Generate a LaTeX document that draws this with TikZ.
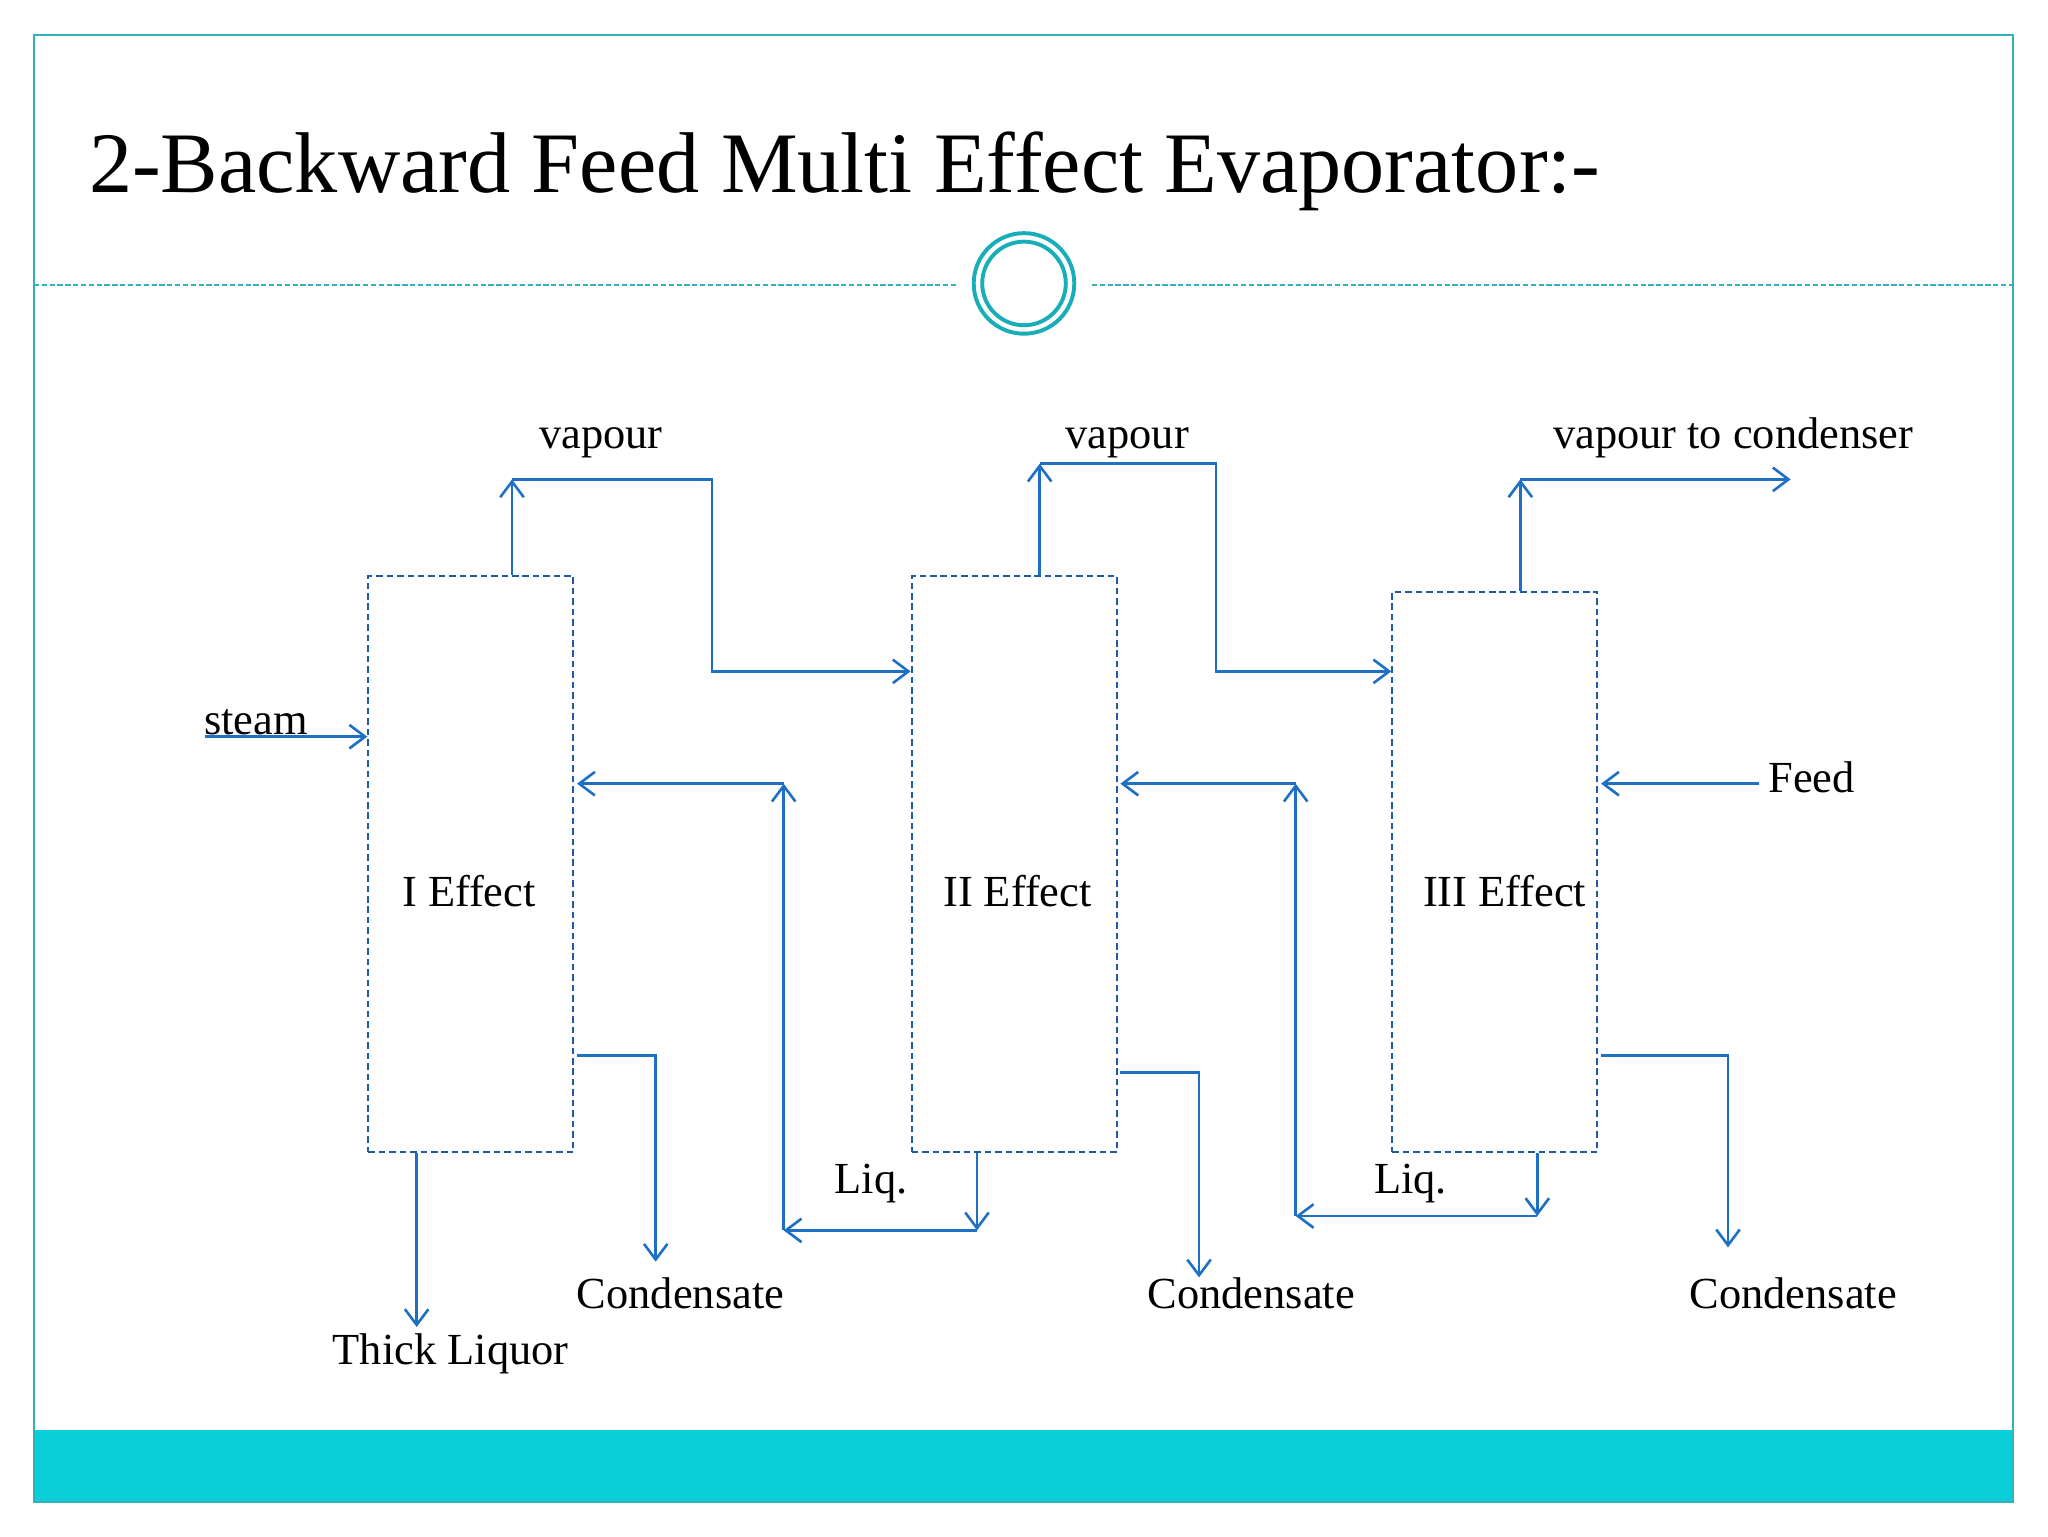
\documentclass[tikz,border=0pt]{standalone}
\usepackage{fontspec}
\setmainfont{Liberation Serif}
\usetikzlibrary{arrows.meta}
\definecolor{flowblue}{RGB}{30,112,196}
\definecolor{boxblue}{RGB}{32,90,166}
\definecolor{frameteal}{RGB}{52,178,188}
\definecolor{ringteal}{RGB}{24,174,184}
\definecolor{bandcyan}{RGB}{11,207,216}
\begin{document}
\begin{tikzpicture}[x=1pt,y=-1pt,
  flow/.style={draw=flowblue,line width=2pt,-{Straight Barb[length=12pt,width=18pt]}},
  effbox/.style={draw=boxblue,line width=1.6pt,dash pattern=on 5pt off 3pt,minimum width=157pt,inner sep=0pt},
  lbl/.style={font=\fontsize{34}{40}\selectfont,anchor=base,inner sep=0pt},
]
\useasboundingbox (0,0) rectangle (1568,1176);
\fill[white] (0,0) rectangle (1568,1176);
% frame
\fill[bandcyan] (26,1095) rectangle (1541,1150);
\draw[frameteal,line width=1.5pt] (26,27) rectangle (1541,1150);
\draw[frameteal,line width=1.3pt,dash pattern=on 4pt off 2pt] (26,218) -- (732,218);
\draw[frameteal,line width=1.3pt,dash pattern=on 4pt off 2pt] (836,218) -- (1541,218);
\draw[ringteal,line width=3pt] (784,217) circle[radius=38.5];
\draw[ringteal,line width=3pt] (784,217) circle[radius=32];
% title
\node[font=\fontsize{66}{70}\selectfont,anchor=base west,inner sep=0pt] (title) at (68,147) {2-Backward Feed Multi Effect Evaporator:-};
% effects
\node[effbox,minimum height=441pt] (e1) at (360.5,661.5) {};
\node[effbox,minimum height=441pt] (e2) at (776.5,661.5) {};
\node[effbox,minimum height=429pt] (e3) at (1144.5,667.5) {};
\node[lbl] (le1) at (359,694) {I Effect};
\node[lbl] (le2) at (779,694) {II Effect};
\node[lbl] (le3) at (1152,694) {III Effect};
% coordinates
\coordinate (s0) at (157,564);
\coordinate (v1) at (392,367);
\coordinate (v1r) at (545,367);
\coordinate (v1d) at (545,514);
\coordinate (v2) at (796,355);
\coordinate (v2r) at (931,355);
\coordinate (v2d) at (931,514);
\coordinate (v3) at (1164,367);
\coordinate (v3e) at (1371,367);
\coordinate (f0) at (1347,600);
\coordinate (l3a) at (1177,931);
\coordinate (l3b) at (992,931);
\coordinate (l3c) at (992,600);
\coordinate (l2a) at (748,942);
\coordinate (l2b) at (600,942);
\coordinate (l2c) at (600,600);
\coordinate (c1a) at (502,808);
\coordinate (c1b) at (502,966);
\coordinate (c2a) at (918,821);
\coordinate (c2b) at (918,978);
\coordinate (c3a) at (1323,808);
\coordinate (c3b) at (1323,955);
\coordinate (t1) at (319,1016);
% steam
\draw[flow] (s0) -- (s0 -| e1.west);
% vapours
\draw[flow] (e1.north -| v1) -- (v1);
\draw[flow] (v1) -- (v1r) -- (v1d) -- (v1d -| e2.west);
\draw[flow] (e2.north -| v2) -- (v2);
\draw[flow] (v2) -- (v2r) -- (v2d) -- (v2d -| e3.west);
\draw[flow] (e3.north -| v3) -- (v3);
\draw[flow] (v3) -- (v3e);
% feed
\draw[flow] (f0) -- ([xshift=2pt]f0 -| e3.east);
% liquid III -> II
\draw[flow] (e3.south -| l3a) -- (l3a);
\draw[flow] (l3a) -- (l3b);
\draw[flow] (l3b) -- (l3c);
\draw[flow] (l3c) -- ([xshift=2pt]l3c -| e2.east);
% liquid II -> I
\draw[flow] (e2.south -| l2a) -- (l2a);
\draw[flow] (l2a) -- (l2b);
\draw[flow] (l2b) -- (l2c);
\draw[flow] (l2c) -- ([xshift=2pt]l2c -| e1.east);
% condensates
\draw[flow] ([xshift=2pt]c1a -| e1.east) -- (c1a) -- (c1b);
\draw[flow] ([xshift=2pt]c2a -| e2.east) -- (c2a) -- (c2b);
\draw[flow] ([xshift=2pt]c3a -| e3.east) -- (c3a) -- (c3b);
% thick liquor
\draw[flow] (e1.south -| t1) -- (t1);
% labels
\node[lbl] (lsteam) at (196,562) {steam};
\node[lbl] (lvap1) at (460,343) {vapour};
\node[lbl] (lvap2) at (863,343) {vapour};
\node[lbl] (lvap3) at (1327,343) {vapour to condenser};
\node[lbl] (lfeed) at (1387,607) {Feed};
\node[lbl] (lliq2) at (667,914) {Liq.};
\node[lbl] (lliq3) at (1080,914) {Liq.};
\node[lbl] (lc1) at (521,1002) {Condensate};
\node[lbl] (lc2) at (958,1002) {Condensate};
\node[lbl] (lc3) at (1373,1002) {Condensate};
\node[lbl] (lthick) at (345,1045) {Thick Liquor};
\end{tikzpicture}
\end{document}
